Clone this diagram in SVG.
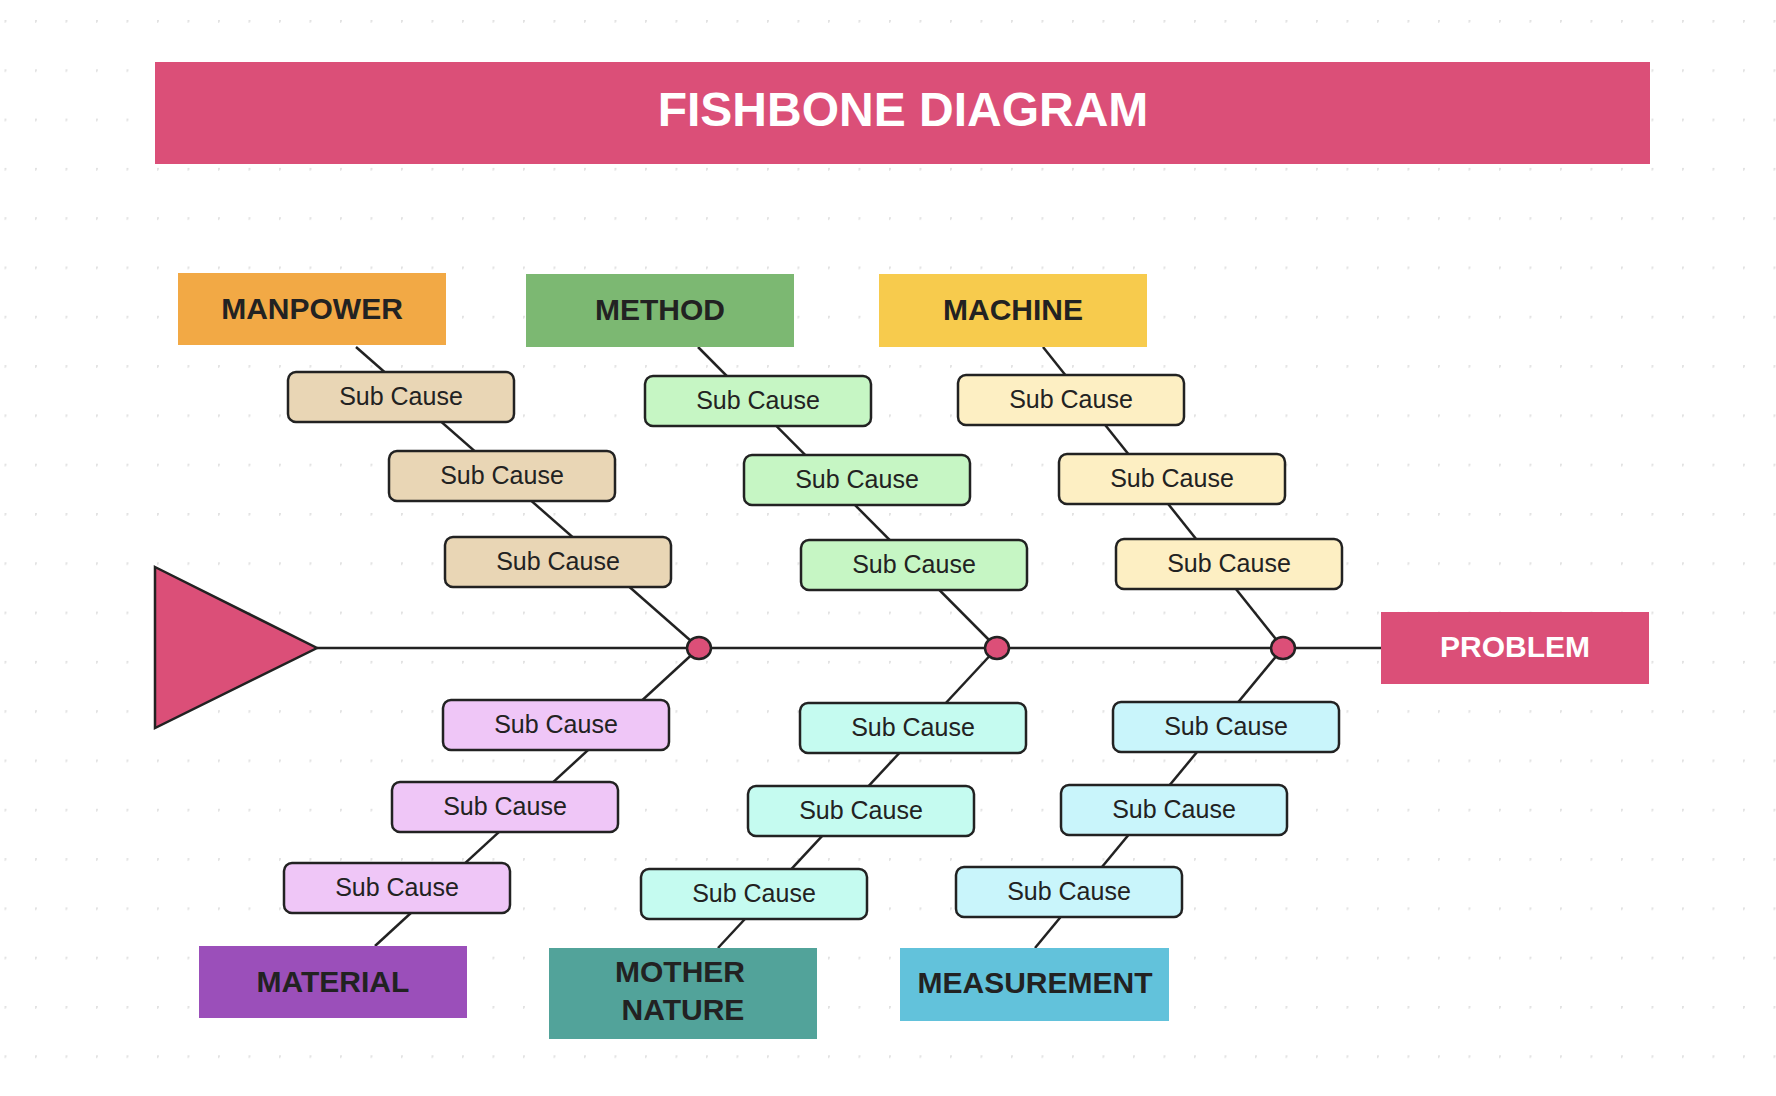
<svg xmlns="http://www.w3.org/2000/svg" width="1776" height="1096" viewBox="0 0 1776 1096">
<defs>
<pattern id="dots" x="4.5" y="20" width="30.5" height="49.3" patternUnits="userSpaceOnUse">
<ellipse cx="0" cy="0" rx="2" ry="3" fill="#e2e2e2"/>
</pattern>
<style>
.cat{font-family:"Liberation Sans",Arial,sans-serif;font-weight:bold;font-size:30px;fill:#222;text-anchor:middle}
.sub rect{stroke:#222;stroke-width:2.5}
.sub text{font-family:"Liberation Sans",Arial,sans-serif;font-size:25px;fill:#222;text-anchor:middle}
.bone{stroke:#222;stroke-width:2.5;fill:none}
.dot{fill:#dc4f78;stroke:#222;stroke-width:2.5}
</style>
</defs>
<rect width="1776" height="1096" fill="#fff"/>
<rect width="1776" height="1096" fill="url(#dots)"/>
<g id="title"><rect x="155" y="62" width="1495" height="102" fill="#db4f78"/>
<text x="903" y="126" style="font-family:'Liberation Sans',Arial,sans-serif;font-weight:bold;font-size:48px;fill:#fff;text-anchor:middle">FISHBONE DIAGRAM</text></g>
<g id="connectors">
<line class="bone" x1="317" y1="648" x2="1382" y2="648"/>
<line class="bone" x1="356" y1="347" x2="699" y2="648"/>
<line class="bone" x1="698" y1="347" x2="997" y2="648"/>
<line class="bone" x1="1043" y1="347" x2="1283" y2="648"/>
<line class="bone" x1="699" y1="648" x2="375" y2="946"/>
<line class="bone" x1="997" y1="648" x2="718" y2="948"/>
<line class="bone" x1="1283" y1="648" x2="1035" y2="948"/>
</g>
<g id="head"><polygon points="155,567 317,648 155,728" fill="#db4f78" stroke="#222" stroke-width="2.5"/></g>
<g id="joints"><ellipse class="dot" cx="699" cy="648" rx="12" ry="11"/><ellipse class="dot" cx="997" cy="648" rx="12" ry="11"/><ellipse class="dot" cx="1283" cy="648" rx="12" ry="11"/></g>
<g id="problem"><rect x="1381" y="612" width="268" height="72" fill="#db4f78"/><text class="cat" x="1515" y="657" style="fill:#fff">PROBLEM</text></g>
<g id="manpower"><rect x="178" y="273" width="268" height="72" fill="#f2a945"/><text class="cat" x="312" y="319">MANPOWER</text></g>
<g id="method"><rect x="526" y="274" width="268" height="73" fill="#7cb872"/><text class="cat" x="660" y="320">METHOD</text></g>
<g id="machine"><rect x="879" y="274" width="268" height="73" fill="#f7cb4d"/><text class="cat" x="1013" y="320">MACHINE</text></g>
<g id="material"><rect x="199" y="946" width="268" height="72" fill="#9b4fba"/><text class="cat" x="333" y="992">MATERIAL</text></g>
<g id="mothernature"><rect x="549" y="948" width="268" height="91" fill="#52a39a"/><text class="cat" x="680" y="982">MOTHER</text><text class="cat" x="683" y="1020">NATURE</text></g>
<g id="measurement"><rect x="900" y="948" width="269" height="73" fill="#62c2db"/><text class="cat" x="1035" y="993">MEASUREMENT</text></g>
<g class="sub">
<g id="mp1"><rect x="288" y="372" width="226" height="50" rx="8" fill="#e9d6b5"/><text x="401" y="405">Sub Cause</text></g>
<g id="mp2"><rect x="389" y="451" width="226" height="50" rx="8" fill="#e9d6b5"/><text x="502" y="484">Sub Cause</text></g>
<g id="mp3"><rect x="445" y="537" width="226" height="50" rx="8" fill="#e9d6b5"/><text x="558" y="570">Sub Cause</text></g>
<g id="me1"><rect x="645" y="376" width="226" height="50" rx="8" fill="#c6f6c4"/><text x="758" y="409">Sub Cause</text></g>
<g id="me2"><rect x="744" y="455" width="226" height="50" rx="8" fill="#c6f6c4"/><text x="857" y="488">Sub Cause</text></g>
<g id="me3"><rect x="801" y="540" width="226" height="50" rx="8" fill="#c6f6c4"/><text x="914" y="573">Sub Cause</text></g>
<g id="ma1"><rect x="958" y="375" width="226" height="50" rx="8" fill="#fdefc3"/><text x="1071" y="408">Sub Cause</text></g>
<g id="ma2"><rect x="1059" y="454" width="226" height="50" rx="8" fill="#fdefc3"/><text x="1172" y="487">Sub Cause</text></g>
<g id="ma3"><rect x="1116" y="539" width="226" height="50" rx="8" fill="#fdefc3"/><text x="1229" y="572">Sub Cause</text></g>
<g id="mt1"><rect x="443" y="700" width="226" height="50" rx="8" fill="#efc6f7"/><text x="556" y="733">Sub Cause</text></g>
<g id="mt2"><rect x="392" y="782" width="226" height="50" rx="8" fill="#efc6f7"/><text x="505" y="815">Sub Cause</text></g>
<g id="mt3"><rect x="284" y="863" width="226" height="50" rx="8" fill="#efc6f7"/><text x="397" y="896">Sub Cause</text></g>
<g id="mn1"><rect x="800" y="703" width="226" height="50" rx="8" fill="#c5fbf0"/><text x="913" y="736">Sub Cause</text></g>
<g id="mn2"><rect x="748" y="786" width="226" height="50" rx="8" fill="#c5fbf0"/><text x="861" y="819">Sub Cause</text></g>
<g id="mn3"><rect x="641" y="869" width="226" height="50" rx="8" fill="#c5fbf0"/><text x="754" y="902">Sub Cause</text></g>
<g id="ms1"><rect x="1113" y="702" width="226" height="50" rx="8" fill="#c9f5fb"/><text x="1226" y="735">Sub Cause</text></g>
<g id="ms2"><rect x="1061" y="785" width="226" height="50" rx="8" fill="#c9f5fb"/><text x="1174" y="818">Sub Cause</text></g>
<g id="ms3"><rect x="956" y="867" width="226" height="50" rx="8" fill="#c9f5fb"/><text x="1069" y="900">Sub Cause</text></g>
</g>
</svg>
